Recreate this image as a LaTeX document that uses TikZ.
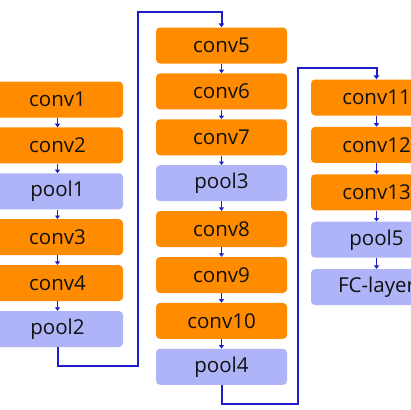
\documentclass[tikz,border=0pt]{standalone}
\usepackage{fontspec}
\setmainfont{Open Sans}
\usepackage{xcolor}
\usepackage{tikz}
\usetikzlibrary{positioning,arrows.meta}
\definecolor{ConvOrange}{HTML}{FF8C00}
\definecolor{PoolLilac}{HTML}{AFB3F7}
\definecolor{LinkBlue}{HTML}{1E1EC8}
\definecolor{LabelInk}{HTML}{101010}

\begin{document}
\begin{tikzpicture}[x=1pt, y=1pt, node distance=9.5pt,
    layer/.style={rounded corners=4pt, minimum width=131pt, minimum height=36pt, inner sep=0pt, text=LabelInk, font=\fontsize{20.5}{20.5}\selectfont},
    conv/.style={layer, fill=ConvOrange},
    pool/.style={layer, fill=PoolLilac},
    flow/.style={-{Triangle[width=5pt,length=3.5pt]}, LinkBlue, line width=1.5pt},
    link/.style={-{Triangle[width=5.5pt,length=4pt]}, LinkBlue, line width=2pt}]
    \useasboundingbox (0,0) rectangle (410,-410);
    % first column
    \node[conv] (conv1) at (57.5,-99.5) {conv1};
    \node[conv, below=of conv1] (conv2) {conv2};
    \node[pool, below=of conv2] (pool1) {pool1};
    \node[conv, below=of pool1] (conv3) {conv3};
    \node[conv, below=of conv3] (conv4) {conv4};
    \node[pool, below=of conv4] (pool2) {pool2};
    % second column
    \node[conv] (conv5) at (221.5,-45.5) {conv5};
    \node[conv, below=of conv5] (conv6) {conv6};
    \node[conv, below=of conv6] (conv7) {conv7};
    \node[pool, below=of conv7] (pool3) {pool3};
    \node[conv, below=of pool3] (conv8) {conv8};
    \node[conv, below=of conv8] (conv9) {conv9};
    \node[conv, below=of conv9] (conv10) {conv10};
    \node[pool, below=of conv10] (pool4) {pool4};
    % third column
    \node[conv] (conv11) at (376.5,-97.5) {conv11};
    \node[conv, below=11pt of conv11] (conv12) {conv12};
    \node[conv, below=11pt of conv12] (conv13) {conv13};
    \node[pool, below=11pt of conv13] (pool5) {pool5};
    \node[pool, below=11pt of pool5] (fc) {FC-layer};

    \foreach \a/\b in {conv1/conv2, conv2/pool1, pool1/conv3, conv3/conv4, conv4/pool2,
        conv5/conv6, conv6/conv7, conv7/pool3, pool3/conv8, conv8/conv9, conv9/conv10, conv10/pool4,
        conv11/conv12, conv12/conv13, conv13/pool5, pool5/fc}
        \draw[flow] (\a.south) -- (\b.north);

    % jumps between columns
    \coordinate (upA) at (138,-12);
    \coordinate (upB) at (298,-68);
    \draw[link] (pool2.south) -- ++(0,-19) -| (upA) -| (conv5.north);
    \draw[link] (pool4.south) -- ++(0,-19) -| (upB) -| (conv11.north);
\end{tikzpicture}
\end{document}
